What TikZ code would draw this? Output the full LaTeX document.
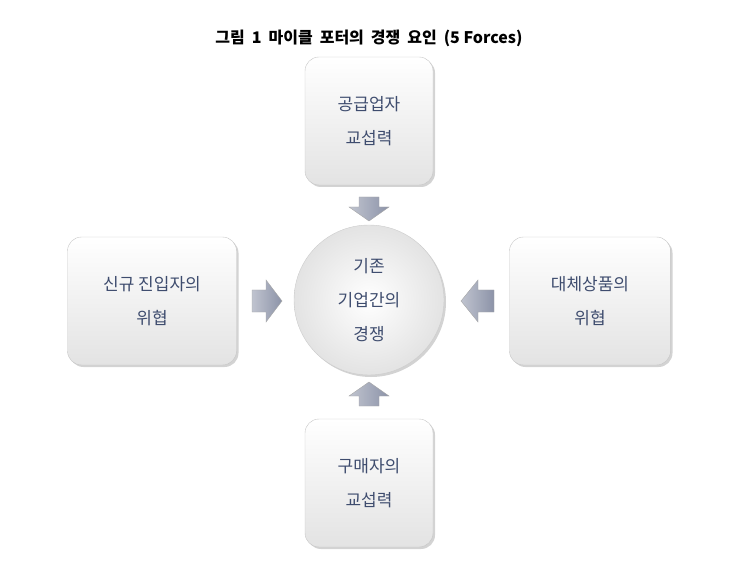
\documentclass[tikz,border=0pt]{standalone}
\usepackage{fontspec}
\setmainfont{Noto Sans CJK KR}
\usetikzlibrary{shadows}
\definecolor{txt}{HTML}{3E4C6E}
\definecolor{arr}{HTML}{8C93A8}
\tikzset{
  box/.style={draw=gray!45, rounded corners=14pt, minimum width=#1, minimum height=128pt,
    top color=white, bottom color=gray!22, text=txt, font=\fontsize{17pt}{34pt}\selectfont,
    align=center, drop shadow={shadow xshift=2pt,shadow yshift=-2pt,opacity=0.35}},
  circ/.style={circle, draw=gray!40, minimum size=150pt, inner sep=0pt,
    inner color=white, outer color=gray!22, text=txt, font=\fontsize{17pt}{34pt}\selectfont,
    align=center, drop shadow={shadow xshift=2pt,shadow yshift=-2pt,opacity=0.35}},
  blk/.style={draw=gray!70, left color=arr!55, right color=arr}
}
\newcommand{\gap}{\hspace{7pt}}
\begin{document}
\begin{tikzpicture}[x=1pt,y=1pt]
\useasboundingbox (0,0) rectangle (740,-583);
\node (title) at (369,-38) {\fontsize{16pt}{18pt}\selectfont\bfseries 그림\gap 1\gap 마이클\gap 포터의\gap 경쟁\gap 요인\gap (5 Forces)};
\node[box=128pt] (top) at (369,-121) {공급업자\\교섭력};
\node[box=169pt] (left) at (152,-301) {신규 진입자의\\위협};
\node[box=161pt] (right) at (590,-301) {대체상품의\\위협};
\node[box=128pt] (bot) at (369,-483) {구매자의\\교섭력};
\node[circ] (c) at (369,-300) {기존\\기업간의\\경쟁};
% arrows
\draw[blk] (359,-197) -- (379,-197) -- (379,-207) -- (389,-207) -- (369,-221) -- (349,-207) -- (359,-207) -- cycle;
\draw[blk] (359,-406) -- (379,-406) -- (379,-396) -- (389,-396) -- (369,-382) -- (349,-396) -- (359,-396) -- cycle;
\draw[blk] (252,-290) -- (266,-290) -- (266,-280) -- (282,-301) -- (266,-322) -- (266,-312) -- (252,-312) -- cycle;
\draw[blk] (494,-290) -- (478,-290) -- (478,-280) -- (461,-301) -- (478,-322) -- (478,-312) -- (494,-312) -- cycle;
\end{tikzpicture}
\end{document}
